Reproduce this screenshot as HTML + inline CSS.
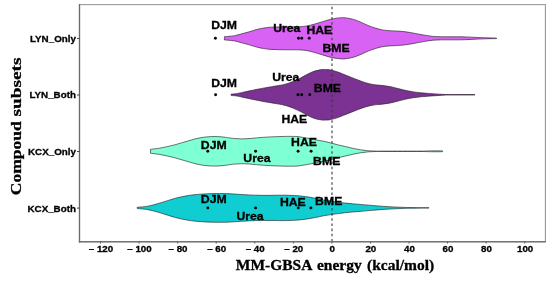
<!DOCTYPE html>
<html><head><meta charset="utf-8"><title>Violin plot</title>
<style>
html,body{margin:0;padding:0;background:#fff;}
body{width:550px;height:281px;overflow:hidden;position:relative;}
svg{position:absolute;left:0;top:0;display:block;}
.sans{font-family:"Liberation Sans",Arial,Helvetica,sans-serif;font-weight:bold;fill:#000;stroke:#000;stroke-width:0.3px;}
.serif{font-family:"Liberation Serif","Times New Roman",serif;font-weight:bold;fill:#000;stroke:#000;stroke-width:0.3px;}
</style></head><body>
<svg width="550" height="281" viewBox="0 0 550 281">
<rect x="0" y="0" width="550" height="281" fill="#ffffff"/>
<path d="M224.40,36.70C225.17,36.63 227.32,36.47 229.00,36.30C230.68,36.13 232.37,36.12 234.50,35.70C236.63,35.28 239.37,34.45 241.80,33.80C244.23,33.15 246.67,32.50 249.10,31.80C251.53,31.10 253.98,30.23 256.40,29.60C258.82,28.97 261.18,28.40 263.60,28.00C266.02,27.60 268.47,27.38 270.90,27.20C273.33,27.02 275.77,26.97 278.20,26.90C280.63,26.83 283.08,26.82 285.50,26.80C287.92,26.78 290.28,26.82 292.70,26.80C295.12,26.78 297.57,26.85 300.00,26.70C302.43,26.55 304.88,26.33 307.30,25.90C309.72,25.47 312.08,24.77 314.50,24.10C316.92,23.43 319.37,22.63 321.80,21.90C324.23,21.17 326.67,20.32 329.10,19.70C331.53,19.08 334.33,18.53 336.40,18.20C338.47,17.87 339.83,17.75 341.50,17.70C343.17,17.65 344.38,17.62 346.40,17.90C348.42,18.18 351.18,18.68 353.60,19.40C356.02,20.12 358.47,21.18 360.90,22.20C363.33,23.22 365.77,24.52 368.20,25.50C370.63,26.48 373.12,27.37 375.50,28.10C377.88,28.83 380.17,29.47 382.50,29.90C384.83,30.33 387.12,30.52 389.50,30.70C391.88,30.88 394.37,30.85 396.80,31.00C399.23,31.15 401.67,31.32 404.10,31.60C406.53,31.88 408.98,32.28 411.40,32.70C413.82,33.12 416.18,33.65 418.60,34.10C421.02,34.55 423.47,35.02 425.90,35.40C428.33,35.78 430.77,36.18 433.20,36.40C435.63,36.62 438.08,36.64 440.50,36.70C442.92,36.76 444.62,36.74 447.70,36.75C450.78,36.76 456.03,36.73 459.00,36.75C461.97,36.77 463.37,36.83 465.50,36.90C467.63,36.97 469.68,37.10 471.80,37.20C473.92,37.30 476.08,37.41 478.20,37.50C480.32,37.59 482.38,37.68 484.50,37.75C486.62,37.82 488.90,37.86 490.90,37.90C492.90,37.94 495.57,37.98 496.50,38.00L496.50,38.60C495.57,38.62 492.90,38.66 490.90,38.70C488.90,38.74 486.62,38.78 484.50,38.85C482.38,38.92 480.32,39.01 478.20,39.10C476.08,39.19 473.92,39.30 471.80,39.40C469.68,39.50 467.63,39.62 465.50,39.70C463.37,39.77 461.97,39.82 459.00,39.85C456.03,39.87 450.78,39.84 447.70,39.85C444.62,39.86 442.92,39.84 440.50,39.90C438.08,39.96 435.63,39.98 433.20,40.20C430.77,40.42 428.33,40.82 425.90,41.20C423.47,41.58 421.02,42.05 418.60,42.50C416.18,42.95 413.82,43.48 411.40,43.90C408.98,44.32 406.53,44.72 404.10,45.00C401.67,45.28 399.23,45.45 396.80,45.60C394.37,45.75 391.88,45.72 389.50,45.90C387.12,46.08 384.83,46.27 382.50,46.70C380.17,47.13 377.88,47.77 375.50,48.50C373.12,49.23 370.63,50.12 368.20,51.10C365.77,52.08 363.33,53.38 360.90,54.40C358.47,55.42 356.02,56.48 353.60,57.20C351.18,57.92 348.42,58.42 346.40,58.70C344.38,58.98 343.17,58.95 341.50,58.90C339.83,58.85 338.47,58.73 336.40,58.40C334.33,58.07 331.53,57.52 329.10,56.90C326.67,56.28 324.23,55.43 321.80,54.70C319.37,53.97 316.92,53.17 314.50,52.50C312.08,51.83 309.72,51.13 307.30,50.70C304.88,50.27 302.43,50.05 300.00,49.90C297.57,49.75 295.12,49.82 292.70,49.80C290.28,49.78 287.92,49.82 285.50,49.80C283.08,49.78 280.63,49.77 278.20,49.70C275.77,49.63 273.33,49.58 270.90,49.40C268.47,49.22 266.02,49.00 263.60,48.60C261.18,48.20 258.82,47.63 256.40,47.00C253.98,46.37 251.53,45.50 249.10,44.80C246.67,44.10 244.23,43.45 241.80,42.80C239.37,42.15 236.63,41.32 234.50,40.90C232.37,40.48 230.68,40.47 229.00,40.30C227.32,40.13 225.17,39.97 224.40,39.90Z" fill="#D862F3" stroke="#1a1a1a" stroke-width="0.6" stroke-linejoin="round"/>
<path d="M231.20,94.00C231.88,93.97 233.42,94.07 235.30,93.80C237.18,93.53 240.08,92.90 242.50,92.40C244.92,91.90 247.37,91.32 249.80,90.80C252.23,90.28 254.67,89.78 257.10,89.30C259.53,88.82 261.98,88.33 264.40,87.90C266.82,87.47 269.18,87.10 271.60,86.70C274.02,86.30 276.47,85.97 278.90,85.50C281.33,85.03 283.77,84.60 286.20,83.90C288.63,83.20 291.12,82.28 293.50,81.30C295.88,80.32 298.20,79.17 300.50,78.00C302.80,76.83 304.97,75.45 307.30,74.30C309.63,73.15 312.08,71.88 314.50,71.10C316.92,70.32 319.97,69.87 321.80,69.60C323.63,69.33 324.28,69.48 325.50,69.50C326.72,69.52 327.28,69.37 329.10,69.70C330.92,70.03 333.98,70.73 336.40,71.50C338.82,72.27 341.18,73.35 343.60,74.30C346.02,75.25 348.47,76.23 350.90,77.20C353.33,78.17 355.77,79.18 358.20,80.10C360.63,81.02 363.28,82.02 365.50,82.70C367.72,83.38 369.53,83.82 371.50,84.20C373.47,84.58 375.13,84.75 377.30,85.00C379.47,85.25 382.08,85.38 384.50,85.70C386.92,86.02 389.37,86.38 391.80,86.90C394.23,87.42 396.67,88.18 399.10,88.80C401.53,89.42 403.98,90.08 406.40,90.60C408.82,91.12 411.18,91.53 413.60,91.90C416.02,92.27 418.47,92.55 420.90,92.80C423.33,93.05 425.77,93.22 428.20,93.40C430.63,93.58 433.08,93.74 435.50,93.90C437.92,94.06 440.28,94.23 442.70,94.35C445.12,94.47 444.62,94.54 450.00,94.60C455.38,94.66 470.83,94.68 475.00,94.70L475.00,94.90C470.83,94.92 455.38,94.94 450.00,95.00C444.62,95.06 445.12,95.13 442.70,95.25C440.28,95.37 437.92,95.54 435.50,95.70C433.08,95.86 430.63,96.02 428.20,96.20C425.77,96.38 423.33,96.55 420.90,96.80C418.47,97.05 416.02,97.33 413.60,97.70C411.18,98.07 408.82,98.48 406.40,99.00C403.98,99.52 401.53,100.18 399.10,100.80C396.67,101.42 394.23,102.18 391.80,102.70C389.37,103.22 386.92,103.58 384.50,103.90C382.08,104.22 379.47,104.35 377.30,104.60C375.13,104.85 373.47,105.02 371.50,105.40C369.53,105.78 367.72,106.22 365.50,106.90C363.28,107.58 360.63,108.58 358.20,109.50C355.77,110.42 353.33,111.43 350.90,112.40C348.47,113.37 346.02,114.35 343.60,115.30C341.18,116.25 338.82,117.33 336.40,118.10C333.98,118.87 330.92,119.57 329.10,119.90C327.28,120.23 326.72,120.08 325.50,120.10C324.28,120.12 323.63,120.27 321.80,120.00C319.97,119.73 316.92,119.28 314.50,118.50C312.08,117.72 309.63,116.45 307.30,115.30C304.97,114.15 302.80,112.77 300.50,111.60C298.20,110.43 295.88,109.28 293.50,108.30C291.12,107.32 288.63,106.40 286.20,105.70C283.77,105.00 281.33,104.57 278.90,104.10C276.47,103.63 274.02,103.30 271.60,102.90C269.18,102.50 266.82,102.13 264.40,101.70C261.98,101.27 259.53,100.78 257.10,100.30C254.67,99.82 252.23,99.32 249.80,98.80C247.37,98.28 244.92,97.70 242.50,97.20C240.08,96.70 237.18,96.07 235.30,95.80C233.42,95.53 231.88,95.63 231.20,95.60Z" fill="#7C3292" stroke="#1a1a1a" stroke-width="0.6" stroke-linejoin="round"/>
<path d="M150.50,149.30C151.08,149.23 152.50,149.08 154.00,148.90C155.50,148.72 157.37,148.57 159.50,148.20C161.63,147.83 164.37,147.23 166.80,146.70C169.23,146.17 171.67,145.63 174.10,145.00C176.53,144.37 178.98,143.60 181.40,142.90C183.82,142.20 186.18,141.50 188.60,140.80C191.02,140.10 193.47,139.28 195.90,138.70C198.33,138.12 200.77,137.65 203.20,137.30C205.63,136.95 208.08,136.72 210.50,136.60C212.92,136.48 215.45,136.52 217.70,136.60C219.95,136.68 222.40,136.93 224.00,137.10C225.60,137.27 225.55,137.37 227.30,137.60C229.05,137.83 232.08,138.28 234.50,138.50C236.92,138.72 239.37,138.88 241.80,138.90C244.23,138.92 246.67,138.77 249.10,138.60C251.53,138.43 253.98,138.12 256.40,137.90C258.82,137.68 261.18,137.47 263.60,137.30C266.02,137.13 268.47,137.02 270.90,136.90C273.33,136.78 275.77,136.68 278.20,136.60C280.63,136.52 283.08,136.43 285.50,136.40C287.92,136.37 290.62,136.37 292.70,136.40C294.78,136.43 296.40,136.45 298.00,136.60C299.60,136.75 300.38,136.98 302.30,137.30C304.22,137.62 307.08,138.05 309.50,138.50C311.92,138.95 314.37,139.53 316.80,140.00C319.23,140.47 321.67,140.78 324.10,141.30C326.53,141.82 328.98,142.48 331.40,143.10C333.82,143.72 336.18,144.40 338.60,145.00C341.02,145.60 343.47,146.13 345.90,146.70C348.33,147.27 350.77,147.88 353.20,148.40C355.63,148.92 358.08,149.42 360.50,149.80C362.92,150.18 365.28,150.49 367.70,150.70C370.12,150.91 372.12,150.98 375.00,151.05C377.88,151.12 377.50,151.09 385.00,151.10C392.50,151.11 412.17,151.14 420.00,151.10C427.83,151.06 428.23,150.88 432.00,150.85C435.77,150.82 440.83,150.89 442.60,150.90L442.60,151.70C440.83,151.71 435.77,151.78 432.00,151.75C428.23,151.72 427.83,151.54 420.00,151.50C412.17,151.46 392.50,151.49 385.00,151.50C377.50,151.51 377.88,151.48 375.00,151.55C372.12,151.62 370.12,151.69 367.70,151.90C365.28,152.11 362.92,152.42 360.50,152.80C358.08,153.18 355.63,153.68 353.20,154.20C350.77,154.72 348.33,155.33 345.90,155.90C343.47,156.47 341.02,157.00 338.60,157.60C336.18,158.20 333.82,158.88 331.40,159.50C328.98,160.12 326.53,160.78 324.10,161.30C321.67,161.82 319.23,162.13 316.80,162.60C314.37,163.07 311.92,163.65 309.50,164.10C307.08,164.55 304.22,164.98 302.30,165.30C300.38,165.62 299.60,165.85 298.00,166.00C296.40,166.15 294.78,166.17 292.70,166.20C290.62,166.23 287.92,166.23 285.50,166.20C283.08,166.17 280.63,166.08 278.20,166.00C275.77,165.92 273.33,165.82 270.90,165.70C268.47,165.58 266.02,165.47 263.60,165.30C261.18,165.13 258.82,164.92 256.40,164.70C253.98,164.48 251.53,164.17 249.10,164.00C246.67,163.83 244.23,163.68 241.80,163.70C239.37,163.72 236.92,163.88 234.50,164.10C232.08,164.32 229.05,164.77 227.30,165.00C225.55,165.23 225.60,165.33 224.00,165.50C222.40,165.67 219.95,165.92 217.70,166.00C215.45,166.08 212.92,166.12 210.50,166.00C208.08,165.88 205.63,165.65 203.20,165.30C200.77,164.95 198.33,164.48 195.90,163.90C193.47,163.32 191.02,162.50 188.60,161.80C186.18,161.10 183.82,160.40 181.40,159.70C178.98,159.00 176.53,158.23 174.10,157.60C171.67,156.97 169.23,156.43 166.80,155.90C164.37,155.37 161.63,154.77 159.50,154.40C157.37,154.03 155.50,153.88 154.00,153.70C152.50,153.52 151.08,153.37 150.50,153.30Z" fill="#7FFFD4" stroke="#1a1a1a" stroke-width="0.6" stroke-linejoin="round"/>
<path d="M137.10,207.40C137.47,207.35 137.73,207.27 139.30,207.10C140.87,206.93 144.08,206.78 146.50,206.40C148.92,206.02 151.37,205.42 153.80,204.80C156.23,204.18 158.67,203.43 161.10,202.70C163.53,201.97 165.98,201.15 168.40,200.40C170.82,199.65 173.18,198.85 175.60,198.20C178.02,197.55 180.47,197.00 182.90,196.50C185.33,196.00 187.77,195.55 190.20,195.20C192.63,194.85 195.08,194.62 197.50,194.40C199.92,194.18 202.23,194.03 204.70,193.90C207.17,193.77 209.83,193.67 212.30,193.60C214.77,193.53 217.08,193.50 219.50,193.50C221.92,193.50 224.37,193.52 226.80,193.60C229.23,193.68 231.67,193.85 234.10,194.00C236.53,194.15 238.98,194.35 241.40,194.50C243.82,194.65 246.18,194.78 248.60,194.90C251.02,195.02 253.47,195.13 255.90,195.20C258.33,195.28 260.77,195.32 263.20,195.35C265.63,195.38 268.08,195.38 270.50,195.35C272.92,195.32 275.28,195.23 277.70,195.20C280.12,195.18 282.20,195.15 285.00,195.20C287.80,195.25 291.70,195.35 294.50,195.50C297.30,195.65 299.37,195.83 301.80,196.10C304.23,196.37 306.67,196.70 309.10,197.10C311.53,197.50 313.98,198.02 316.40,198.50C318.82,198.98 321.18,199.55 323.60,200.00C326.02,200.45 328.47,200.83 330.90,201.20C333.33,201.57 335.77,201.88 338.20,202.20C340.63,202.52 343.08,202.83 345.50,203.10C347.92,203.37 350.28,203.58 352.70,203.80C355.12,204.02 356.67,204.12 360.00,204.40C363.33,204.68 368.77,205.17 372.70,205.50C376.63,205.83 379.97,206.15 383.60,206.40C387.23,206.65 390.85,206.82 394.50,207.00C398.15,207.18 401.85,207.34 405.50,207.45C409.15,207.56 412.48,207.59 416.40,207.65C420.32,207.71 426.90,207.78 429.00,207.80L429.00,208.00C426.90,208.03 420.32,208.09 416.40,208.15C412.48,208.21 409.15,208.24 405.50,208.35C401.85,208.46 398.15,208.62 394.50,208.80C390.85,208.98 387.23,209.15 383.60,209.40C379.97,209.65 376.63,209.97 372.70,210.30C368.77,210.63 363.33,211.12 360.00,211.40C356.67,211.68 355.12,211.78 352.70,212.00C350.28,212.22 347.92,212.43 345.50,212.70C343.08,212.97 340.63,213.28 338.20,213.60C335.77,213.92 333.33,214.23 330.90,214.60C328.47,214.97 326.02,215.35 323.60,215.80C321.18,216.25 318.82,216.82 316.40,217.30C313.98,217.78 311.53,218.30 309.10,218.70C306.67,219.10 304.23,219.43 301.80,219.70C299.37,219.97 297.30,220.15 294.50,220.30C291.70,220.45 287.80,220.55 285.00,220.60C282.20,220.65 280.12,220.62 277.70,220.60C275.28,220.57 272.92,220.48 270.50,220.45C268.08,220.43 265.63,220.43 263.20,220.45C260.77,220.48 258.33,220.53 255.90,220.60C253.47,220.67 251.02,220.78 248.60,220.90C246.18,221.02 243.82,221.15 241.40,221.30C238.98,221.45 236.53,221.65 234.10,221.80C231.67,221.95 229.23,222.12 226.80,222.20C224.37,222.28 221.92,222.30 219.50,222.30C217.08,222.30 214.77,222.27 212.30,222.20C209.83,222.13 207.17,222.03 204.70,221.90C202.23,221.77 199.92,221.62 197.50,221.40C195.08,221.18 192.63,220.95 190.20,220.60C187.77,220.25 185.33,219.80 182.90,219.30C180.47,218.80 178.02,218.25 175.60,217.60C173.18,216.95 170.82,216.15 168.40,215.40C165.98,214.65 163.53,213.83 161.10,213.10C158.67,212.37 156.23,211.62 153.80,211.00C151.37,210.38 148.92,209.78 146.50,209.40C144.08,209.02 140.87,208.87 139.30,208.70C137.73,208.53 137.47,208.45 137.10,208.40Z" fill="#0FCDD1" stroke="#1a1a1a" stroke-width="0.6" stroke-linejoin="round"/>
<line x1="332.0" y1="241.5" x2="332.0" y2="4.6" stroke="#3a3a3a" stroke-width="1.1" stroke-dasharray="2.58 2.58"/>
<circle cx="215.4" cy="38.3" r="1.45" fill="#000"/>
<circle cx="298.5" cy="38.3" r="1.45" fill="#000"/>
<circle cx="301.8" cy="38.3" r="1.45" fill="#000"/>
<circle cx="309.2" cy="38.3" r="1.45" fill="#000"/>
<circle cx="215.6" cy="94.8" r="1.45" fill="#000"/>
<circle cx="298" cy="94.8" r="1.45" fill="#000"/>
<circle cx="301.7" cy="94.8" r="1.45" fill="#000"/>
<circle cx="309.8" cy="94.8" r="1.45" fill="#000"/>
<circle cx="207.8" cy="151.3" r="1.45" fill="#000"/>
<circle cx="255.6" cy="151.3" r="1.45" fill="#000"/>
<circle cx="298.1" cy="151.3" r="1.45" fill="#000"/>
<circle cx="311.1" cy="151.3" r="1.45" fill="#000"/>
<circle cx="207.8" cy="207.9" r="1.45" fill="#000"/>
<circle cx="255.6" cy="207.9" r="1.45" fill="#000"/>
<circle cx="298.3" cy="207.9" r="1.45" fill="#000"/>
<circle cx="310.9" cy="207.9" r="1.45" fill="#000"/>
<text class="sans" transform="translate(211.2,29.3) scale(1.075,1)" font-size="11.4">DJM</text>
<text class="sans" transform="translate(273.2,32.1) scale(1.075,1)" font-size="11.4">Urea</text>
<text class="sans" transform="translate(306.4,33.7) scale(1.075,1)" font-size="11.4">HAE</text>
<text class="sans" transform="translate(322.4,52.2) scale(1.075,1)" font-size="11.4">BME</text>
<text class="sans" transform="translate(211.2,86.8) scale(1.075,1)" font-size="11.4">DJM</text>
<text class="sans" transform="translate(272.2,81.0) scale(1.075,1)" font-size="11.4">Urea</text>
<text class="sans" transform="translate(313.8,92.1) scale(1.075,1)" font-size="11.4">BME</text>
<text class="sans" transform="translate(281.4,123.0) scale(1.075,1)" font-size="11.4">HAE</text>
<text class="sans" transform="translate(200.8,149.3) scale(1.075,1)" font-size="11.4">DJM</text>
<text class="sans" transform="translate(243.3,162.2) scale(1.075,1)" font-size="11.4">Urea</text>
<text class="sans" transform="translate(291.1,145.5) scale(1.075,1)" font-size="11.4">HAE</text>
<text class="sans" transform="translate(313.1,164.5) scale(1.075,1)" font-size="11.4">BME</text>
<text class="sans" transform="translate(200.8,202.7) scale(1.075,1)" font-size="11.4">DJM</text>
<text class="sans" transform="translate(236.4,220.2) scale(1.075,1)" font-size="11.4">Urea</text>
<text class="sans" transform="translate(279.9,205.8) scale(1.075,1)" font-size="11.4">HAE</text>
<text class="sans" transform="translate(315.1,205.0) scale(1.075,1)" font-size="11.4">BME</text>
<rect x="79.5" y="4.6" width="465.9" height="237.0" fill="none" stroke="#999" stroke-width="1.1"/>
<line x1="79.5" y1="4.1" x2="79.5" y2="242.6" stroke="#6a6a6a" stroke-width="1.3"/>
<line x1="78.85" y1="241.79999999999998" x2="545.9" y2="241.79999999999998" stroke="#737373" stroke-width="1.6"/>
<line x1="77.0" y1="38.5" x2="79.5" y2="38.5" stroke="#333" stroke-width="0.9"/>
<text class="sans" transform="translate(75.9,41.9) scale(1.06,1)" font-size="9.25" text-anchor="end">LYN_Only</text>
<line x1="77.0" y1="95.0" x2="79.5" y2="95.0" stroke="#333" stroke-width="0.9"/>
<text class="sans" transform="translate(75.9,98.4) scale(1.06,1)" font-size="9.25" text-anchor="end">LYN_Both</text>
<line x1="77.0" y1="151.5" x2="79.5" y2="151.5" stroke="#333" stroke-width="0.9"/>
<text class="sans" transform="translate(75.9,154.9) scale(1.06,1)" font-size="9.25" text-anchor="end">KCX_Only</text>
<line x1="77.0" y1="208.1" x2="79.5" y2="208.1" stroke="#333" stroke-width="0.9"/>
<text class="sans" transform="translate(75.9,211.5) scale(1.06,1)" font-size="9.25" text-anchor="end">KCX_Both</text>
<line x1="100.54" y1="241.6" x2="100.54" y2="243.6" stroke="#555" stroke-width="0.9"/>
<text class="sans" transform="translate(100.94,252.3) scale(1.06,1)" font-size="9.2" text-anchor="middle">– 120</text>
<line x1="139.10" y1="241.6" x2="139.10" y2="243.6" stroke="#555" stroke-width="0.9"/>
<text class="sans" transform="translate(139.50,252.3) scale(1.06,1)" font-size="9.2" text-anchor="middle">– 100</text>
<line x1="177.66" y1="241.6" x2="177.66" y2="243.6" stroke="#555" stroke-width="0.9"/>
<text class="sans" transform="translate(178.06,252.3) scale(1.06,1)" font-size="9.2" text-anchor="middle">– 80</text>
<line x1="216.22" y1="241.6" x2="216.22" y2="243.6" stroke="#555" stroke-width="0.9"/>
<text class="sans" transform="translate(216.62,252.3) scale(1.06,1)" font-size="9.2" text-anchor="middle">– 60</text>
<line x1="254.78" y1="241.6" x2="254.78" y2="243.6" stroke="#555" stroke-width="0.9"/>
<text class="sans" transform="translate(255.18,252.3) scale(1.06,1)" font-size="9.2" text-anchor="middle">– 40</text>
<line x1="293.34" y1="241.6" x2="293.34" y2="243.6" stroke="#555" stroke-width="0.9"/>
<text class="sans" transform="translate(293.74,252.3) scale(1.06,1)" font-size="9.2" text-anchor="middle">– 20</text>
<line x1="331.90" y1="241.6" x2="331.90" y2="243.6" stroke="#555" stroke-width="0.9"/>
<text class="sans" transform="translate(332.30,252.3) scale(1.06,1)" font-size="9.2" text-anchor="middle">0</text>
<line x1="370.46" y1="241.6" x2="370.46" y2="243.6" stroke="#555" stroke-width="0.9"/>
<text class="sans" transform="translate(370.86,252.3) scale(1.06,1)" font-size="9.2" text-anchor="middle">20</text>
<line x1="409.02" y1="241.6" x2="409.02" y2="243.6" stroke="#555" stroke-width="0.9"/>
<text class="sans" transform="translate(409.42,252.3) scale(1.06,1)" font-size="9.2" text-anchor="middle">40</text>
<line x1="447.58" y1="241.6" x2="447.58" y2="243.6" stroke="#555" stroke-width="0.9"/>
<text class="sans" transform="translate(447.98,252.3) scale(1.06,1)" font-size="9.2" text-anchor="middle">60</text>
<line x1="486.14" y1="241.6" x2="486.14" y2="243.6" stroke="#555" stroke-width="0.9"/>
<text class="sans" transform="translate(486.54,252.3) scale(1.06,1)" font-size="9.2" text-anchor="middle">80</text>
<line x1="524.70" y1="241.6" x2="524.70" y2="243.6" stroke="#555" stroke-width="0.9"/>
<text class="sans" transform="translate(525.10,252.3) scale(1.06,1)" font-size="9.2" text-anchor="middle">100</text>
<text class="serif" transform="translate(335,270.2) scale(1.062,1)" font-size="14.6" word-spacing="1.4" text-anchor="middle">MM-GBSA energy (kcal/mol)</text>
<text class="serif" transform="translate(21.1,195.2) rotate(-90) scale(1.21,1)" font-size="14.5" text-anchor="start">Compoud</text>
<text class="serif" transform="translate(21.1,57.5) rotate(-90) scale(1.33,1)" font-size="14.5" text-anchor="end">subsets</text>
</svg></body></html>
